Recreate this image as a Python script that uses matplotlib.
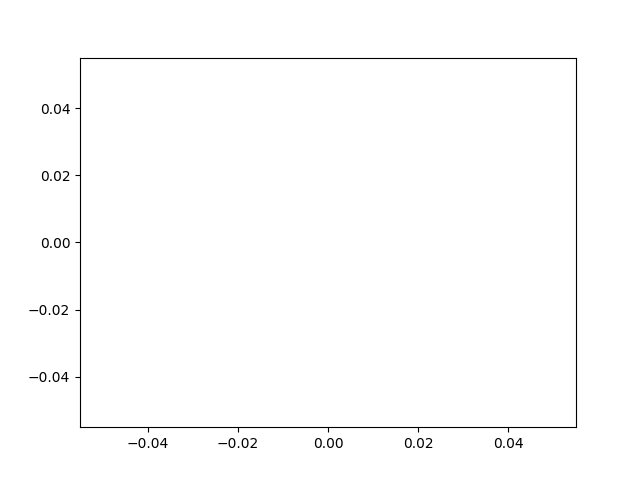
import matplotlib
matplotlib.use('Agg')
import matplotlib.pyplot as plt

# the chart has no data points at all
listX = []
listY = []

fig = plt.figure(figsize=(6.4, 4.8), dpi=100)
plt.plot(listX, listY)
plt.savefig('out.png')
